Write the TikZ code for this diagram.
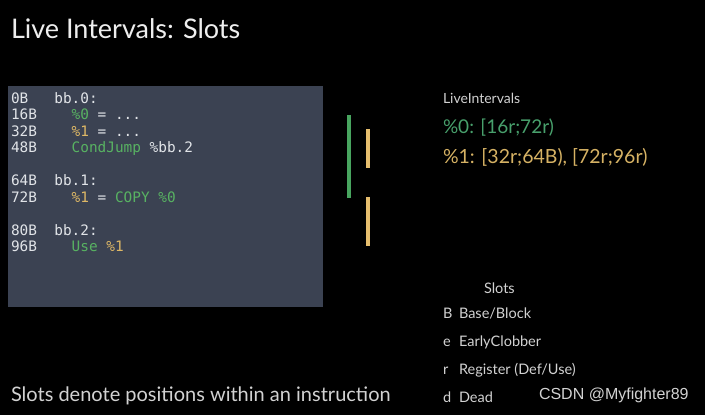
\documentclass[tikz,border=0pt]{standalone}
\usepackage{fontspec}
\setmainfont{Lato}
\setmonofont{DejaVu Sans Mono}
\newfontfamily\arialf{Liberation Sans}
\definecolor{codebg}{RGB}{59,66,82}
\definecolor{codefg}{RGB}{225,228,232}
\definecolor{cgreen}{RGB}{88,178,98}
\definecolor{cgold}{RGB}{222,184,102}
\definecolor{rgreen}{RGB}{72,160,108}
\definecolor{rgold}{RGB}{214,178,100}
\definecolor{bgreen}{RGB}{72,165,95}
\definecolor{bgold}{RGB}{230,190,110}
\definecolor{titlec}{RGB}{238,238,238}
\definecolor{greyt}{RGB}{210,210,210}
\begin{document}
\begin{tikzpicture}[x=1pt,y=-1pt,
  txt/.style={anchor=base west, inner sep=0pt, outer sep=0pt},
  code/.style={txt, text=codefg, font=\ttfamily\fontsize{14.4}{16}\selectfont},
  slot/.style={txt, text=greyt, font=\fontsize{14.5}{16}\selectfont},
  bar/.style={line width=4pt}]
\fill[black] (0,0) rectangle (705,415);
\useasboundingbox (0,0) rectangle (705,415);

\node[txt, text=titlec, font=\fontsize{27}{30}\selectfont] (title) at (11,38) {Live Intervals: Slots};

\fill[codebg] (8,86) rectangle (323,307);

% addresses
\node[code] (a0) at (11,103) {0B};
\node[code] (a1) at (11,119.5) {16B};
\node[code] (a2) at (11,136) {32B};
\node[code] (a3) at (11,152.5) {48B};
\node[code] (a4) at (11,185.5) {64B};
\node[code] (a5) at (11,202) {72B};
\node[code] (a6) at (11,235) {80B};
\node[code] (a7) at (11,251.5) {96B};
% labels
\node[code] (b0) at (54.4,103) {bb.0:};
\node[code] (b1) at (54.4,185.5) {bb.1:};
\node[code] (b2) at (54.4,235) {bb.2:};
% instructions
\node[code] (i1) at (71.7,119.5) {\textcolor{cgreen}{\%0} = ...};
\node[code] (i2) at (71.7,136) {\textcolor{cgold}{\%1} = ...};
\node[code] (i3) at (71.7,152.5) {\textcolor{cgreen}{CondJump} \%bb.2};
\node[code] (i5) at (71.7,202) {\textcolor{cgold}{\%1} = \textcolor{cgreen}{COPY \%0}};
\node[code] (i7) at (71.7,251.5) {\textcolor{cgreen}{Use} \textcolor{cgold}{\%1}};

% bars
\draw[bar, bgreen] (349,115) -- (349,197.5);
\draw[bar, bgold] (368,129) -- (368,168);
\draw[bar, bgold] (368,197) -- (368,246);

% live intervals
\node[txt, text=greyt, font=\fontsize{14}{16}\selectfont] (li) at (443,103) {LiveIntervals};
\node[txt, text=rgreen, font=\fontsize{19}{21}\selectfont] (v0) at (443,133) {\%0: [16r;72r)};
\node[txt, text=rgold, font=\fontsize{19.5}{21}\selectfont] (v1) at (443,163) {\%1: [32r;64B), [72r;96r)};

% slots
\node[slot] (st) at (484,293) {Slots};
\node[slot] (s1) at (443,318) {B};
\node[slot] (s1t) at (459,318) {Base/Block};
\node[slot] (s2) at (443,346) {e};
\node[slot] (s2t) at (459,346) {EarlyClobber};
\node[slot] (s3) at (443,374) {r};
\node[slot] (s3t) at (459,374) {Register (Def/Use)};
\node[slot] (s4) at (443,402) {d};
\node[slot] (s4t) at (459,402) {Dead};

\node[txt, text=greyt, font=\arialf\fontsize{16}{18}\selectfont] (csdn) at (539,399) {CSDN @Myfighter89};

\node[txt, text=greyt, font=\fontsize{20}{22}\selectfont] (foot) at (11,401) {Slots denote positions within an instruction};
\end{tikzpicture}
\end{document}
